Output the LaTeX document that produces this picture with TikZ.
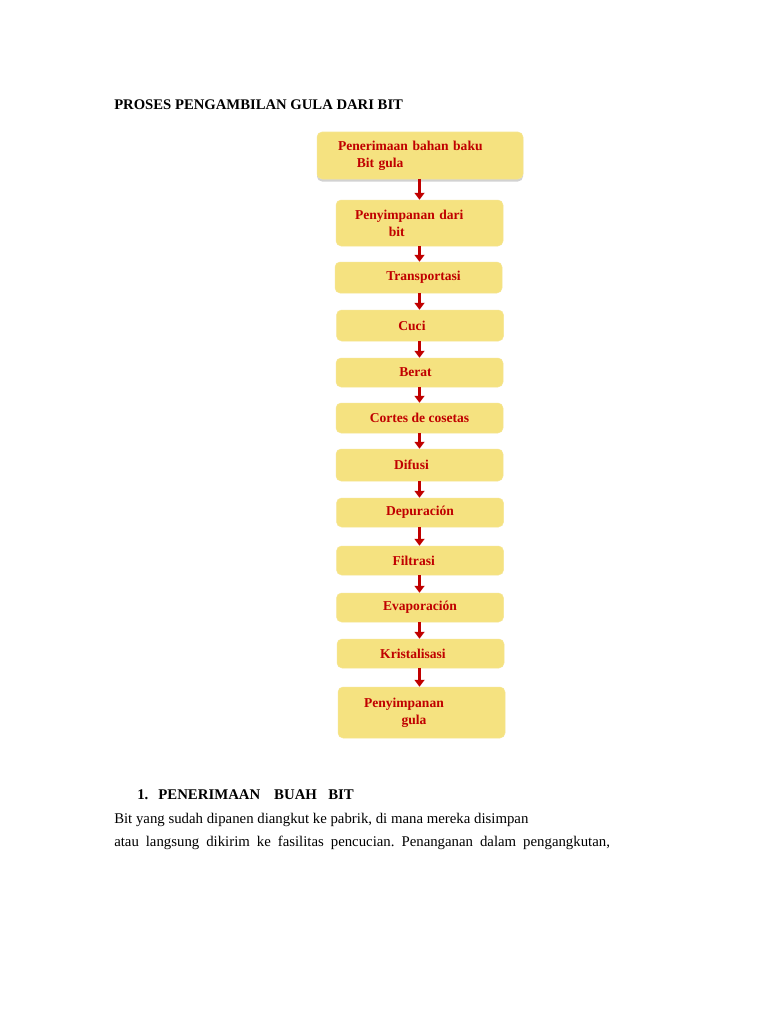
\documentclass[tikz,border=0pt]{standalone}
\usepackage{fontspec}
\setmainfont{Liberation Serif}
\usetikzlibrary{arrows.meta,shadows}
\frenchspacing
\definecolor{boxColor}{RGB}{245,226,128}
\definecolor{textColor}{RGB}{192,0,0}
\newcommand{\px}{0.796875pt}
\tikzstyle{page} = [x = \px, y = -\px]
\tikzstyle{processBox} = [fill=boxColor, draw=boxColor!85!white, rounded corners = 4pt, inner sep=0pt,
  font=\fontsize{10.8pt}{13.6pt}\selectfont\bfseries, text=textColor, minimum width=167*\px]
\tikzstyle{twoLines} = [align=left]
\tikzstyle{flowArrow} = [draw=textColor, line width=3*\px, -{Triangle[width=10*\px, length=7*\px]}]
\tikzstyle{bodyText} = [font=\fontsize{11.8pt}{14pt}\selectfont, inner sep=0pt, anchor=base west]
\newcommand{\processStep}[5]{\node [processBox, minimum height=#3*\px] (#4) at (#1, #2) {#5};}

\begin{document}
\begin{tikzpicture}[page]
  \useasboundingbox[fill=white] (0,0) rectangle (768,1024);

  % title
  \node [bodyText, font=\fontsize{11.7pt}{14pt}\selectfont\bfseries] (title) at (114,109) {PROSES PENGAMBILAN GULA DARI BIT};

  % flow chart
  \node [processBox, twoLines, minimum width=206*\px, minimum height=47*\px, text width=164*\px,
    drop shadow={shadow xshift=0pt, shadow yshift=-2.5*\px, opacity=.35}] (penerimaanBox) at (420,155.5)
    {Penerimaan bahan baku\\\hspace*{15pt}Bit gula};
  \node [processBox, twoLines, minimum height=46*\px, text width=129*\px] (penyimpananBitBox) at (419.5,223)
    {Penyimpanan dari\\\hspace*{27pt}bit};
  \processStep{418.5}{277.5}{31}{transportasiBox}{\hspace*{8pt}Transportasi}
  \processStep{420}{325.5}{31}{cuciBox}{Cuci\hspace*{12.8pt}}
  \processStep{419.5}{372.5}{29}{beratBox}{Berat\hspace*{6.4pt}}
  \processStep{419.5}{418}{30}{cortesBox}{Cortes de cosetas}
  \processStep{419.5}{465}{32}{difusiBox}{Difusi\hspace*{12.8pt}}
  \processStep{420}{512.5}{29}{depuracionBox}{Depuración}
  \processStep{420}{560.5}{29}{filtrasiBox}{Filtrasi\hspace*{10pt}}
  \processStep{420}{607.5}{29}{evaporacionBox}{Evaporación}
  \processStep{420.5}{653.5}{29}{kristalisasiBox}{Kristalisasi\hspace*{12pt}}
  \node [processBox, twoLines, minimum height=51*\px, text width=115*\px] (penyimpananGulaBox) at (421.5,712.5)
    {Penyimpanan\\\hspace*{30pt}gula};

  \foreach \from/\to in {penerimaanBox/penyimpananBitBox, penyimpananBitBox/transportasiBox,
      transportasiBox/cuciBox, cuciBox/beratBox, beratBox/cortesBox, cortesBox/difusiBox,
      difusiBox/depuracionBox, depuracionBox/filtrasiBox, filtrasiBox/evaporacionBox,
      evaporacionBox/kristalisasiBox, kristalisasiBox/penyimpananGulaBox}
    \draw [flowArrow] (\from.south -| 419.5,0) ++(0,-0.5) -- (\to.north -| 419.5,0);

  % text below
  \node [bodyText, font=\fontsize{11.8pt}{14pt}\selectfont\bfseries] (heading) at (137,799)
    {1.\hspace{8pt}PENERIMAAN\hspace{11pt}BUAH\hspace{9pt}BIT};
  \node [bodyText] (lineOne) at (114,823) {Bit yang sudah dipanen diangkut ke pabrik, di mana mereka disimpan};
  \node [bodyText] (lineTwo) at (114,846)
    {\makebox[395pt][s]{atau langsung dikirim ke fasilitas pencucian. Penanganan dalam pengangkutan,}};
\end{tikzpicture}
\end{document}
